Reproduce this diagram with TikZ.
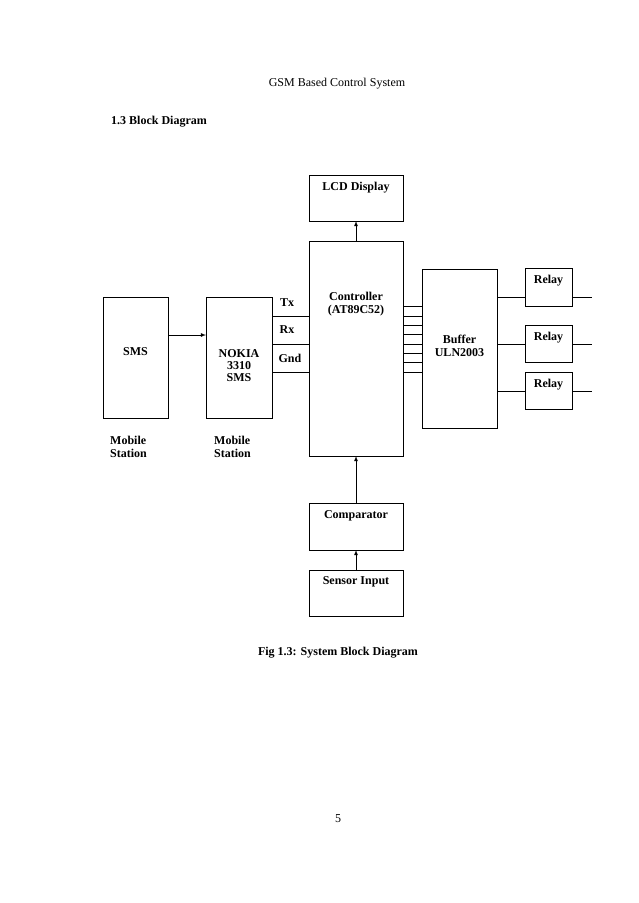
\documentclass[tikz,border=0pt]{standalone}
\usepackage{fontspec}
\setmainfont{Liberation Serif}
\begin{document}
\begin{tikzpicture}[x=1pt,y=-1pt,
  box/.style={draw,line width=0.8pt},
  lbl/.style={font=\fontsize{12}{14}\selectfont\bfseries,align=center,inner sep=0pt},
  ln/.style={line width=0.8pt},
  arr/.style={line width=0.8pt,-latex}]
\useasboundingbox (0,0) rectangle (638,903);
\node[inner sep=0pt,font=\fontsize{12}{14}\selectfont] (hdr) at (337,84) {GSM Based Control System};
\node[lbl,anchor=west] (sec) at (111,122) {1.3 Block Diagram};
\draw[box] (103,297) rectangle (168,418);
\node[lbl] (sms) at (135.5,352) {SMS};
\draw[box] (206,297) rectangle (272,418);
\node[lbl,align=center] (nokia) at (239,366) {NOKIA\\[-2pt]3310\\[-2pt]SMS};
\coordinate (smsR) at (168,335); \coordinate (nokL) at (206,335);
\draw[arr] (smsR) -- (nokL);
\node[lbl,align=left,anchor=west] (ms1) at (110,447) {Mobile\\[-1pt]Station};
\node[lbl,align=left,anchor=west] (ms2) at (214,447) {Mobile\\[-1pt]Station};
\foreach \y in {316,344,372} \draw[ln] (272,\y) -- (309,\y);
\node[lbl] (tx) at (287,303) {Tx};
\node[lbl] (rx) at (287,330) {Rx};
\node[lbl] (gnd) at (290,358) {Gnd};
\draw[box] (309,241) rectangle (403,456);
\node[lbl] (ctrl) at (356,304) {Controller\\[-1pt](AT89C52)};
\draw[box] (309,175) rectangle (403,221);
\node[lbl] (lcd) at (356,188) {LCD Display};
\draw[arr] (356,241) -- (356,221);
\draw[box] (309,503) rectangle (403,550);
\node[lbl] (cmp) at (356,516) {Comparator};
\draw[arr] (356,503) -- (356,456);
\draw[box] (309,570) rectangle (403,616);
\node[lbl] (sen) at (356,582) {Sensor Input};
\draw[arr] (356,570) -- (356,550);
\draw[box] (422,269) rectangle (497,428);
\node[lbl] (buf) at (459.5,346) {Buffer\\[-1pt]ULN2003};
\foreach \i in {0,...,7} \draw[ln] (403,306.7+9.33*\i) -- (422,306.7+9.33*\i);
\foreach \a/\b/\m in {268/306/297,325/362/344,372/409/391}{
  \draw[box] (525,\a) rectangle (572,\b);
  \node[lbl] at (548.5,\a+13) {Relay};
  \draw[ln] (497,\m) -- (525,\m);
  \draw[ln] (572,\m) -- (592,\m);
}
\node[lbl] (cap) at (338,653) {Fig 1.3: System Block Diagram};
\node[inner sep=0pt,font=\fontsize{12}{14}\selectfont] (pg) at (338,819) {5};
\end{tikzpicture}
\end{document}
